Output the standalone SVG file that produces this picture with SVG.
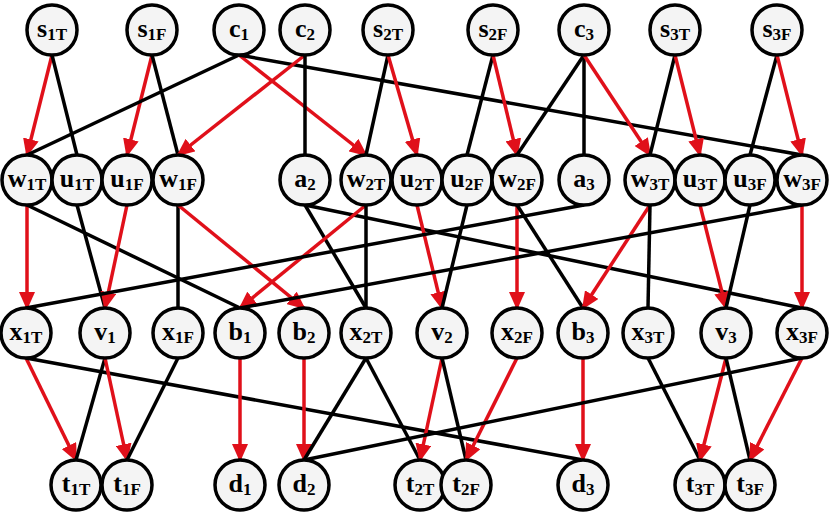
<svg xmlns="http://www.w3.org/2000/svg" width="832" height="516" viewBox="0 0 832 516">
<style>
.n circle{fill:#f4f4f4;stroke:#000;stroke-width:3.5}
.n text{font-family:'Liberation Serif','Times New Roman',serif;font-weight:bold;font-size:26px;text-anchor:middle}
.n tspan.s{font-size:17px}
.k{stroke:#000;stroke-width:3.5}
.r{stroke:#e0101a;stroke-width:3.5;marker-end:url(#a)}
</style>
<defs>
<marker id="a" markerUnits="userSpaceOnUse" markerWidth="18" markerHeight="16" refX="16" refY="8" orient="auto">
<path d="M0,0 L18,8 L0,16 Z" fill="#e0101a"/>
</marker>
</defs>
<rect width="832" height="516" fill="#fff"/>
<g id="edges">
<line class="r" x1="52" y1="55" x2="27" y2="155"/>
<line class="k" x1="52" y1="55" x2="77" y2="155"/>
<line class="r" x1="152" y1="55" x2="127" y2="155"/>
<line class="k" x1="152" y1="55" x2="178" y2="155"/>
<line class="k" x1="239" y1="55" x2="27" y2="155"/>
<line class="r" x1="239" y1="55" x2="366" y2="155"/>
<line class="k" x1="239" y1="55" x2="802" y2="155"/>
<line class="r" x1="305" y1="55" x2="178" y2="155"/>
<line class="k" x1="305" y1="55" x2="305" y2="155"/>
<line class="k" x1="388" y1="55" x2="366" y2="155"/>
<line class="r" x1="388" y1="55" x2="417" y2="155"/>
<line class="k" x1="493" y1="55" x2="467" y2="155"/>
<line class="r" x1="493" y1="55" x2="517" y2="155"/>
<line class="k" x1="584" y1="55" x2="517" y2="155"/>
<line class="k" x1="584" y1="55" x2="584" y2="155"/>
<line class="r" x1="584" y1="55" x2="650" y2="155"/>
<line class="k" x1="675" y1="55" x2="650" y2="155"/>
<line class="r" x1="675" y1="55" x2="700" y2="155"/>
<line class="k" x1="777" y1="55" x2="750" y2="155"/>
<line class="r" x1="777" y1="55" x2="802" y2="155"/>

<line class="r" x1="27" y1="205" x2="27" y2="308"/>
<line class="k" x1="27" y1="205" x2="240" y2="308"/>
<line class="k" x1="77" y1="205" x2="105" y2="308"/>
<line class="r" x1="127" y1="205" x2="105" y2="308"/>
<line class="k" x1="178" y1="205" x2="178" y2="308"/>
<line class="r" x1="178" y1="205" x2="304" y2="308"/>
<line class="k" x1="305" y1="205" x2="366" y2="308"/>
<line class="k" x1="305" y1="205" x2="802" y2="308"/>
<line class="r" x1="366" y1="205" x2="240" y2="308"/>
<line class="k" x1="366" y1="205" x2="366" y2="308"/>
<line class="r" x1="417" y1="205" x2="442" y2="308"/>
<line class="k" x1="467" y1="205" x2="442" y2="308"/>
<line class="r" x1="517" y1="205" x2="517" y2="308"/>
<line class="k" x1="517" y1="205" x2="583" y2="308"/>
<line class="k" x1="584" y1="205" x2="26" y2="308"/>
<line class="r" x1="650" y1="205" x2="583" y2="308"/>
<line class="k" x1="650" y1="205" x2="648" y2="308"/>
<line class="r" x1="700" y1="205" x2="726" y2="308"/>
<line class="k" x1="750" y1="205" x2="726" y2="308"/>
<line class="r" x1="802" y1="205" x2="802" y2="308"/>
<line class="k" x1="802" y1="205" x2="240" y2="308"/>

<line class="r" x1="26" y1="358" x2="76" y2="460"/>
<line class="k" x1="26" y1="358" x2="583" y2="460"/>
<line class="k" x1="105" y1="358" x2="76" y2="460"/>
<line class="r" x1="105" y1="358" x2="127" y2="460"/>
<line class="k" x1="178" y1="358" x2="127" y2="460"/>
<line class="r" x1="240" y1="358" x2="240" y2="460"/>
<line class="r" x1="304" y1="358" x2="304" y2="460"/>
<line class="k" x1="366" y1="358" x2="304" y2="460"/>
<line class="k" x1="366" y1="358" x2="420" y2="460"/>
<line class="r" x1="442" y1="358" x2="420" y2="460"/>
<line class="k" x1="442" y1="358" x2="466" y2="460"/>
<line class="r" x1="517" y1="358" x2="466" y2="460"/>
<line class="r" x1="583" y1="358" x2="583" y2="460"/>
<line class="k" x1="648" y1="358" x2="700" y2="460"/>
<line class="r" x1="726" y1="358" x2="700" y2="460"/>
<line class="k" x1="726" y1="358" x2="750" y2="460"/>
<line class="r" x1="802" y1="358" x2="750" y2="460"/>
<line class="k" x1="802" y1="358" x2="304" y2="460"/>
</g>
<g font-family="Liberation Serif, serif" font-weight="bold">
<g id="s1T" class="n"><circle cx="52" cy="30" r="25"/><text x="52" y="37">s<tspan class="s" dy="3">1T</tspan></text></g>
<g id="s1F" class="n"><circle cx="152" cy="30" r="25"/><text x="152" y="37">s<tspan class="s" dy="3">1F</tspan></text></g>
<g id="c1" class="n"><circle cx="239" cy="30" r="25"/><text x="239" y="37">c<tspan class="s" dy="3">1</tspan></text></g>
<g id="c2" class="n"><circle cx="305" cy="30" r="25"/><text x="305" y="37">c<tspan class="s" dy="3">2</tspan></text></g>
<g id="s2T" class="n"><circle cx="388" cy="30" r="25"/><text x="388" y="37">s<tspan class="s" dy="3">2T</tspan></text></g>
<g id="s2F" class="n"><circle cx="493" cy="30" r="25"/><text x="493" y="37">s<tspan class="s" dy="3">2F</tspan></text></g>
<g id="c3" class="n"><circle cx="584" cy="30" r="25"/><text x="584" y="37">c<tspan class="s" dy="3">3</tspan></text></g>
<g id="s3T" class="n"><circle cx="675" cy="30" r="25"/><text x="675" y="37">s<tspan class="s" dy="3">3T</tspan></text></g>
<g id="s3F" class="n"><circle cx="777" cy="30" r="25"/><text x="777" y="37">s<tspan class="s" dy="3">3F</tspan></text></g>

<g id="w1T" class="n"><circle cx="27" cy="180" r="25"/><text x="27" y="187">w<tspan class="s" dy="3">1T</tspan></text></g>
<g id="u1T" class="n"><circle cx="77" cy="180" r="25"/><text x="77" y="187">u<tspan class="s" dy="3">1T</tspan></text></g>
<g id="u1F" class="n"><circle cx="127" cy="180" r="25"/><text x="127" y="187">u<tspan class="s" dy="3">1F</tspan></text></g>
<g id="w1F" class="n"><circle cx="178" cy="180" r="25"/><text x="178" y="187">w<tspan class="s" dy="3">1F</tspan></text></g>
<g id="a2" class="n"><circle cx="305" cy="180" r="25"/><text x="305" y="187">a<tspan class="s" dy="3">2</tspan></text></g>
<g id="w2T" class="n"><circle cx="366" cy="180" r="25"/><text x="366" y="187">w<tspan class="s" dy="3">2T</tspan></text></g>
<g id="u2T" class="n"><circle cx="417" cy="180" r="25"/><text x="417" y="187">u<tspan class="s" dy="3">2T</tspan></text></g>
<g id="u2F" class="n"><circle cx="467" cy="180" r="25"/><text x="467" y="187">u<tspan class="s" dy="3">2F</tspan></text></g>
<g id="w2F" class="n"><circle cx="517" cy="180" r="25"/><text x="517" y="187">w<tspan class="s" dy="3">2F</tspan></text></g>
<g id="a3" class="n"><circle cx="584" cy="180" r="25"/><text x="584" y="187">a<tspan class="s" dy="3">3</tspan></text></g>
<g id="w3T" class="n"><circle cx="650" cy="180" r="25"/><text x="650" y="187">w<tspan class="s" dy="3">3T</tspan></text></g>
<g id="u3T" class="n"><circle cx="700" cy="180" r="25"/><text x="700" y="187">u<tspan class="s" dy="3">3T</tspan></text></g>
<g id="u3F" class="n"><circle cx="750" cy="180" r="25"/><text x="750" y="187">u<tspan class="s" dy="3">3F</tspan></text></g>
<g id="w3F" class="n"><circle cx="802" cy="180" r="25"/><text x="802" y="187">w<tspan class="s" dy="3">3F</tspan></text></g>

<g id="x1T" class="n"><circle cx="26" cy="333" r="25"/><text x="26" y="340">x<tspan class="s" dy="3">1T</tspan></text></g>
<g id="v1" class="n"><circle cx="105" cy="333" r="25"/><text x="105" y="340">v<tspan class="s" dy="3">1</tspan></text></g>
<g id="x1F" class="n"><circle cx="178" cy="333" r="25"/><text x="178" y="340">x<tspan class="s" dy="3">1F</tspan></text></g>
<g id="b1" class="n"><circle cx="240" cy="333" r="25"/><text x="240" y="340">b<tspan class="s" dy="3">1</tspan></text></g>
<g id="b2" class="n"><circle cx="304" cy="333" r="25"/><text x="304" y="340">b<tspan class="s" dy="3">2</tspan></text></g>
<g id="x2T" class="n"><circle cx="366" cy="333" r="25"/><text x="366" y="340">x<tspan class="s" dy="3">2T</tspan></text></g>
<g id="v2" class="n"><circle cx="442" cy="333" r="25"/><text x="442" y="340">v<tspan class="s" dy="3">2</tspan></text></g>
<g id="x2F" class="n"><circle cx="517" cy="333" r="25"/><text x="517" y="340">x<tspan class="s" dy="3">2F</tspan></text></g>
<g id="b3" class="n"><circle cx="583" cy="333" r="25"/><text x="583" y="340">b<tspan class="s" dy="3">3</tspan></text></g>
<g id="x3T" class="n"><circle cx="648" cy="333" r="25"/><text x="648" y="340">x<tspan class="s" dy="3">3T</tspan></text></g>
<g id="v3" class="n"><circle cx="726" cy="333" r="25"/><text x="726" y="340">v<tspan class="s" dy="3">3</tspan></text></g>
<g id="x3F" class="n"><circle cx="802" cy="333" r="25"/><text x="802" y="340">x<tspan class="s" dy="3">3F</tspan></text></g>

<g id="t1T" class="n"><circle cx="76" cy="485" r="25"/><text x="76" y="492">t<tspan class="s" dy="3">1T</tspan></text></g>
<g id="t1F" class="n"><circle cx="127" cy="485" r="25"/><text x="127" y="492">t<tspan class="s" dy="3">1F</tspan></text></g>
<g id="d1" class="n"><circle cx="240" cy="485" r="25"/><text x="240" y="492">d<tspan class="s" dy="3">1</tspan></text></g>
<g id="d2" class="n"><circle cx="304" cy="485" r="25"/><text x="304" y="492">d<tspan class="s" dy="3">2</tspan></text></g>
<g id="t2T" class="n"><circle cx="420" cy="485" r="25"/><text x="420" y="492">t<tspan class="s" dy="3">2T</tspan></text></g>
<g id="t2F" class="n"><circle cx="466" cy="485" r="25"/><text x="466" y="492">t<tspan class="s" dy="3">2F</tspan></text></g>
<g id="d3" class="n"><circle cx="583" cy="485" r="25"/><text x="583" y="492">d<tspan class="s" dy="3">3</tspan></text></g>
<g id="t3T" class="n"><circle cx="700" cy="485" r="25"/><text x="700" y="492">t<tspan class="s" dy="3">3T</tspan></text></g>
<g id="t3F" class="n"><circle cx="750" cy="485" r="25"/><text x="750" y="492">t<tspan class="s" dy="3">3F</tspan></text></g>
</g>
</svg>
